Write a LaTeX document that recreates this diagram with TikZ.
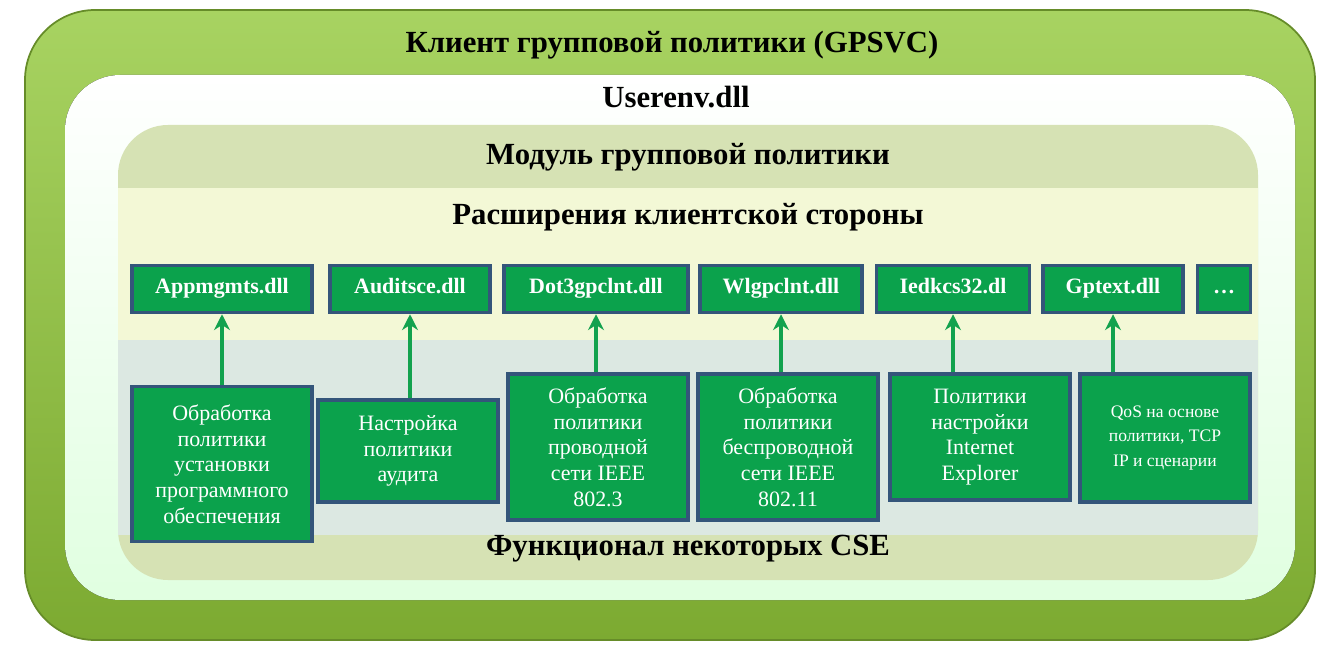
\documentclass[tikz,border=0pt]{standalone}
\usepackage{fontspec}
\setmainfont{Liberation Serif}
\usetikzlibrary{arrows.meta}
\definecolor{outergreen}{HTML}{92C83A}
\definecolor{modfill}{HTML}{D6E2B4}
\definecolor{extfill}{HTML}{F3F8D6}
\definecolor{cseband}{HTML}{DCE8E2}
\definecolor{boxgreen}{HTML}{0BA24C}
\definecolor{boxedge}{HTML}{34557A}
\definecolor{arrowgreen}{HTML}{12A24E}
\tikzset{
  dll/.style={draw=boxedge, line width=2pt, fill=boxgreen, text=white, font=\bfseries\fontsize{12.5}{14}\selectfont, inner sep=0pt, text height=2.6mm, text depth=0.6mm},
  func/.style={draw=boxedge, line width=2pt, fill=boxgreen, text=white, align=center, font=\fontsize{12.5}{14.6}\selectfont, inner sep=0pt},
  heading/.style={font=\bfseries\fontsize{17.5}{20}\selectfont}
}
\begin{document}
\begin{tikzpicture}[x=0.02cm, y=-0.02cm]
\useasboundingbox (0,0) rectangle (1329,658);
% layers
\draw[draw=outergreen!70!black, line width=1pt, top color=outergreen!80!white, bottom color=outergreen!85!black, rounded corners=1.4cm] (25,10) rectangle (1315,640);
\fill[top color=white, bottom color=green!12!white, rounded corners=1.1cm] (65,75) rectangle (1295,600);
\fill[modfill, rounded corners=1cm] (118,125) rectangle (1258,580);
\fill[extfill] (118,188) rectangle (1258,340);
\fill[cseband] (118,340) rectangle (1258,535);
\node[heading] (gpsvc) at (672,45) {Клиент групповой политики (GPSVC)};
\node[heading] (userenv) at (676,97) {Userenv.dll};
\node[heading] (module) at (688,157) {Модуль групповой политики};
\node[heading] (ext) at (688,217) {Расширения клиентской стороны};
\node[heading] (cse) at (688,549) {Функционал некоторых CSE};
% dll boxes
\node[dll, minimum width=3.6cm, minimum height=0.94cm] (appm) at (222,289) {Appmgmts.dll};
\node[dll, minimum width=3.2cm, minimum height=0.94cm] (audit) at (410,289) {Auditsce.dll};
\node[dll, minimum width=3.68cm, minimum height=0.94cm] (dot3) at (596,289) {Dot3gpclnt.dll};
\node[dll, minimum width=3.24cm, minimum height=0.94cm] (wlg) at (781,289) {Wlgpclnt.dll};
\node[dll, minimum width=3.06cm, minimum height=0.94cm] (iedk) at (953,289) {Iedkcs32.dl};
\node[dll, minimum width=2.8cm, minimum height=0.94cm] (gpt) at (1113,289) {Gptext.dll};
\node[dll, minimum width=1.06cm, minimum height=0.94cm] (more) at (1224,289) {\dots};
% function boxes
\node[func, minimum width=3.6cm, minimum height=3.1cm] (f1) at (222,464) {Обработка\\политики\\установки\\программного\\обеспечения};
\node[func, minimum width=3.6cm, minimum height=2.04cm] (f2) at (408,451) {Настройка\\политики\\аудита};
\node[func, minimum width=3.6cm, minimum height=2.92cm] (f3) at (598,447) {Обработка\\политики\\проводной\\сети IEEE\\802.3};
\node[func, minimum width=3.6cm, minimum height=2.92cm] (f4) at (788,447) {Обработка\\политики\\беспроводной\\сети IEEE\\802.11};
\node[func, minimum width=3.6cm, minimum height=2.52cm] (f5) at (980,437) {Политики\\настройки\\Internet\\Explorer};
\node[func, minimum width=3.4cm, minimum height=2.56cm, font=\fontsize{10}{14}\selectfont] (f6) at (1165,438) {QoS на основе\\политики, TCP\\IP и сценарии};
% arrows
\foreach \f/\d in {f1/appm, f2/audit, f3/dot3, f4/wlg, f5/iedk, f6/gpt}
  \draw[arrowgreen, line width=2.5pt, -{Stealth[length=9pt,width=9pt]}] (\f.north -| \d) -- (\d.south);
\end{tikzpicture}
\end{document}
